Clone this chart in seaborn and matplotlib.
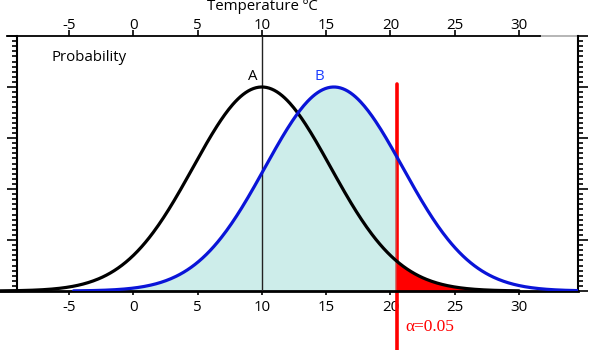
import numpy as np
import pandas as pd
import matplotlib
matplotlib.use("Agg")
import matplotlib.pyplot as plt
from matplotlib.ticker import MultipleLocator, FixedLocator
import seaborn as sns

# Distribution parameters (temperature in degrees C)
mean_a = 10.0
mean_b = 15.6
sd = 5.35
x_crit = 20.5
alpha_level = 0.05
curve_a_range = [-10.4, 30.0]
curve_b_range = [-4.65, 34.6]
temp_ticks = [-5, 0, 5, 10, 15, 20, 25, 30]
curve_labels = ["A", "B"]


def normal_pdf(x, mu, s):
    return np.exp(-0.5 * ((x - mu) / s) ** 2) / (s * np.sqrt(2 * np.pi))


xa = np.linspace(curve_a_range[0], curve_a_range[1], 400)
xb = np.linspace(curve_b_range[0], curve_b_range[1], 400)
df_a = pd.DataFrame({"temp": xa, "p": normal_pdf(xa, mean_a, sd)})
df_b = pd.DataFrame({"temp": xb, "p": normal_pdf(xb, mean_b, sd)})
peak = normal_pdf(mean_a, mean_a, sd)

sns.set_style("white")
plt.rcParams["font.family"] = ["Open Sans", "DejaVu Sans"]
plt.rcParams["text.color"] = "black"

fig = plt.figure(figsize=(5.9, 3.5), dpi=100)
ax = fig.add_axes([0, 59 / 350, 578 / 590, 255 / 350])

x_left, x_right = -10.37, 34.59
ax.set_xlim(x_left, x_right)
ax.set_ylim(0, peak * 5 / 4)

# Red critical line, drawn first so the shaded area tints it
ax.plot([x_crit, x_crit], [-0.231, 0.812], color="#ff0000", lw=2.6,
        transform=ax.get_xaxis_transform(), clip_on=False, zorder=1)

# Acceptance region under B (left of the critical value)
mask_b = df_b["temp"] <= x_crit
ax.fill_between(df_b["temp"][mask_b], 0, df_b["p"][mask_b],
                color=(141 / 255, 216 / 255, 209 / 255), alpha=0.44,
                lw=0, zorder=2)
# Rejection tail under A
xt = np.linspace(x_crit, curve_a_range[1], 200)
ax.fill_between(xt, 0, normal_pdf(xt, mean_a, sd), color="#ff0000",
                lw=0, zorder=2)

# Mean of A
ax.plot([mean_a, mean_a], [0, 1], color="#222222", lw=1.0,
        transform=ax.get_xaxis_transform(), zorder=3)

sns.lineplot(data=df_a, x="temp", y="p", ax=ax, color="black", lw=2.3,
             sort=False, zorder=4, clip_on=False)
sns.lineplot(data=df_b, x="temp", y="p", ax=ax, color="#0a14d8", lw=2.3,
             sort=False, zorder=4)
ax.set_xlabel("")
ax.set_ylabel("")

# Spines
for s in ax.spines.values():
    s.set_color("black")
ax.spines["left"].set_position(("data", -9.05))
ax.spines["left"].set_linewidth(1.5)
ax.spines["right"].set_linewidth(1.5)
ax.spines["bottom"].set_linewidth(2.0)
ax.spines["top"].set_linewidth(1.3)
ax.spines["top"].set_bounds(-9.82, 31.65)
ax.plot([31.65, x_right], [1, 1], color="#b0b0b0", lw=1.3,
        transform=ax.get_xaxis_transform(), clip_on=False)

# Y ticks on both sides, outward, with fine minor ticks
ax.yaxis.set_major_locator(MultipleLocator(peak / 4))
ax.yaxis.set_minor_locator(MultipleLocator(peak / 40))
ax.tick_params(axis="y", which="both", left=True, right=True,
               labelleft=False, labelright=False, direction="out",
               color="black", width=1.2)
ax.tick_params(axis="y", which="major", length=7.2)
ax.tick_params(axis="y", which="minor", length=3.6)

# Temperature ticks on bottom and top
ax.xaxis.set_major_locator(FixedLocator(temp_ticks))
ax.set_xticklabels([str(t) for t in temp_ticks])
ax.tick_params(axis="x", which="major", bottom=True, top=False,
               direction="out", length=3.2, width=1.2, pad=3.5,
               labelsize=10.8, color="black", labelcolor="black")
sec = ax.secondary_xaxis("top")
sec.xaxis.set_major_locator(FixedLocator(temp_ticks))
sec.set_xticklabels([str(t) for t in temp_ticks])
sec.tick_params(axis="x", direction="out", length=4.5, width=1.2, pad=-2.4,
                labelsize=10.8, color="black", labelcolor="black")
sec.spines["top"].set_visible(False)

fig.text(262 / 590, 1 - 7 / 350, "Temperature \u00baC", ha="center",
         va="center", fontsize=10.8, color="black")

ax.text(-6.35, 0.914, "Probability", transform=ax.get_xaxis_transform(),
        ha="left", va="center", fontsize=10.8, color="black")
ax.text(9.3, 0.843, curve_labels[0], transform=ax.get_xaxis_transform(),
        ha="center", va="center", fontsize=10.8, color="black")
ax.text(14.5, 0.843, curve_labels[1], transform=ax.get_xaxis_transform(),
        ha="center", va="center", fontsize=10.8, color="#1a3cff")
ax.text(x_crit + 0.65, -0.141, f"\u03b1={alpha_level}",
        transform=ax.get_xaxis_transform(), ha="left", va="center",
        fontsize=12.5, color="#ff0000", family=["Liberation Serif", "DejaVu Serif"])

fig.savefig("out.png", dpi=100)
